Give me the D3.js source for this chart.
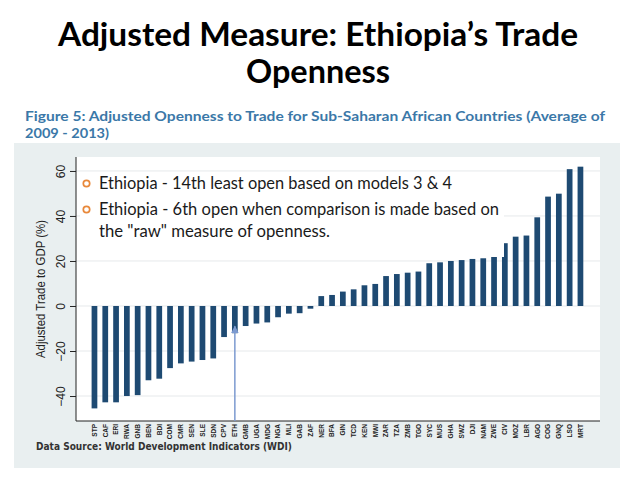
<!DOCTYPE html>
<html>
<head>
<meta charset="utf-8">
<script src="https://cdn.jsdelivr.net/npm/d3@7"></script>
<style>
  body { margin: 0; background: #fff; }
</style>
</head>
<body>
<svg id="chart" width="638" height="478"></svg>
<script>
// country codes, least to most open
const countries = [
  "STP", "CAF", "ERI", "RWA", "GNB", "BEN", "BDI", "COM", "CMR", "SEN",
  "SLE", "SDN", "CPV", "ETH", "GMB", "UGA", "MDG", "NGA", "MLI", "GAB",
  "ZAF", "NER", "BFA", "GIN", "TCD", "KEN", "MWI", "ZAR", "TZA", "ZMB",
  "TGO", "SYC", "MUS", "GHA", "SWZ", "DJI", "NAM", "ZWE", "CIV", "MOZ",
  "LBR", "AGO", "COG", "GNQ", "LSO", "MRT",
];

// adjusted trade to GDP (%)
const openness = [
  -45.5, -42.8, -42.8, -40.0, -39.6, -33.0, -32.3, -27.6, -25.5, -24.7,
  -24.0, -23.3, -13.8, -12.1, -8.9, -7.8, -7.3, -5.0, -3.4, -3.2,
  -1.2, 4.4, 4.9, 6.4, 7.4, 9.2, 9.8, 13.3, 14.2, 14.8,
  15.3, 19.0, 19.4, 20.0, 20.4, 20.9, 21.2, 24.6, 27.9, 30.8,
  31.3, 39.4, 48.6, 49.9, 60.8, 61.9,
];

const yTicks = [-40, -20, 0, 20, 40, 60];

const titleLines = ["Adjusted Measure: Ethiopia\u2019s Trade", "Openness"];
const captionLines = [
  "Figure 5: Adjusted Openness to Trade for Sub-Saharan African Countries (Average of",
  "2009 - 2013)",
];
const bulletLines = [
  { text: "Ethiopia - 14th least open based on models 3 & 4", bullet: true, len: 353 },
  { text: "Ethiopia - 6th open when comparison is made based on", bullet: true, len: 400 },
  { text: "the \"raw\" measure of openness.", bullet: false, len: 231 },
];
const highlight = "ETH";

const svg = d3.select("#chart");

// slide title
svg
  .selectAll(".title")
  .data(titleLines)
  .enter()
  .append("text")
  .attr("class", "title")
  .attr("x", 318)
  .attr("y", (d, i) => 46 + i * 37)
  .attr("text-anchor", "middle")
  .attr("font-family", "Lato, 'Open Sans', sans-serif")
  .attr("font-weight", "bold")
  .attr("font-size", "32px")
  .attr("fill", "#000")
  .attr("textLength", (d, i) => (i === 0 ? 520 : 144))
  .attr("lengthAdjust", "spacingAndGlyphs")
  .text((d) => d);

// figure caption
svg
  .selectAll(".caption")
  .data(captionLines)
  .enter()
  .append("text")
  .attr("class", "caption")
  .attr("x", 25)
  .attr("y", (d, i) => 121 + i * 17)
  .attr("font-family", "Lato, sans-serif")
  .attr("font-weight", "bold")
  .attr("font-size", "12.5px")
  .attr("fill", "#3b78a8")
  .attr("textLength", (d, i) => (i === 0 ? 580 : 84))
  .attr("lengthAdjust", "spacingAndGlyphs")
  .text((d) => d);

// graph region
svg
  .append("rect")
  .attr("x", 14)
  .attr("y", 143)
  .attr("width", 606)
  .attr("height", 325)
  .attr("fill", "#e9eff0");

const plot = { left: 76, right: 600, top: 157, bottom: 421 };

svg
  .append("rect")
  .attr("x", plot.left)
  .attr("y", plot.top)
  .attr("width", plot.right - plot.left)
  .attr("height", plot.bottom - plot.top)
  .attr("fill", "#fff");

// scales
const x = d3
  .scaleBand()
  .domain(countries)
  .range([86.2, 588.7])
  .paddingInner(0.47)
  .paddingOuter(0.5);

const y = d3.scaleLinear().domain([-51.1, 66.2]).range([plot.bottom, plot.top]);

// grid lines
svg
  .selectAll(".grid")
  .data(yTicks)
  .enter()
  .append("line")
  .attr("class", "grid")
  .attr("x1", plot.left)
  .attr("x2", plot.right)
  .attr("y1", (d) => y(d))
  .attr("y2", (d) => y(d))
  .attr("stroke", "#e6e9eb")
  .attr("stroke-width", 1);

// bars
svg
  .selectAll("rect.bar")
  .data(countries)
  .enter()
  .append("rect")
  .attr("class", "bar")
  .attr("x", (d) => x(d))
  .attr("width", x.bandwidth())
  .attr("y", (d, i) => y(Math.max(0, openness[i])))
  .attr("height", (d, i) => Math.abs(y(openness[i]) - y(0)))
  .attr("fill", "#1e4a72");

// y axis
const yAxis = svg
  .append("g")
  .attr("transform", `translate(${plot.left},0)`)
  .call(d3.axisLeft(y).tickValues(yTicks).tickSize(6).tickPadding(3));

yAxis.select(".domain").attr("stroke", "#222").attr("d", `M-0,${plot.top}V${plot.bottom}`);
yAxis.selectAll(".tick line").attr("stroke", "#222");
yAxis
  .selectAll(".tick text")
  .attr("font-family", "Arial, 'Liberation Sans', sans-serif")
  .attr("font-size", "12px")
  .attr("fill", "#222")
  .attr("text-anchor", "middle")
  .attr("x", 0)
  .attr("y", 0)
  .attr("dy", 0)
  .attr("transform", "translate(-11,0) rotate(-90)");

svg
  .append("text")
  .attr("transform", "translate(45,289) rotate(-90)")
  .attr("text-anchor", "middle")
  .attr("font-family", "Arial, 'Liberation Sans', sans-serif")
  .attr("font-size", "13px")
  .attr("fill", "#222")
  .attr("textLength", 138)
  .attr("lengthAdjust", "spacingAndGlyphs")
  .text("Adjusted Trade to GDP (%)");

// x axis
const xAxis = svg
  .append("g")
  .attr("transform", `translate(0,${plot.bottom})`)
  .call(d3.axisBottom(x).tickSize(0).tickPadding(2));

xAxis.select(".domain").attr("stroke", "#222").attr("d", `M${plot.left},0H${plot.right}`);
xAxis
  .selectAll(".tick text")
  .attr("font-family", "Arial, 'Liberation Sans', sans-serif")
  .attr("font-size", "6.5px")
  .attr("font-weight", "bold")
  .attr("fill", "#222")
  .attr("text-anchor", "end")
  .attr("dy", "0.35em")
  .attr("y", 0)
  .attr("transform", "translate(0,3) rotate(-90)");

// source note
svg
  .append("text")
  .attr("x", 36)
  .attr("y", 450)
  .attr("font-family", "Verdana, 'DejaVu Sans', sans-serif")
  .attr("font-size", "10px")
  .attr("font-weight", "bold")
  .attr("fill", "#333")
  .attr("textLength", 256)
  .attr("lengthAdjust", "spacingAndGlyphs")
  .text("Data Source: World Development Indicators (WDI)");

// arrow to Ethiopia
const defs = svg.append("defs");
defs
  .append("marker")
  .attr("id", "arrowhead")
  .attr("viewBox", "0 0 10 10")
  .attr("refX", 9)
  .attr("refY", 5)
  .attr("markerWidth", 5)
  .attr("markerHeight", 5)
  .attr("orient", "auto")
  .append("path")
  .attr("d", "M0,0L10,5L0,10z")
  .attr("fill", "#7c9ad0");

const ethX = x(highlight) + x.bandwidth() / 2;
svg
  .append("line")
  .attr("x1", ethX)
  .attr("x2", ethX)
  .attr("y1", plot.bottom)
  .attr("y2", y(openness[countries.indexOf(highlight)]) - 7)
  .attr("stroke", "#7c9ad0")
  .attr("stroke-width", 1.5)
  .attr("marker-end", "url(#arrowhead)");

// text box with bullets
svg
  .append("rect")
  .attr("x", 80)
  .attr("y", 175)
  .attr("width", 424)
  .attr("height", 82)
  .attr("fill", "#fff");

const lineY = [189, 215, 237];

svg
  .selectAll(".bullet-text")
  .data(bulletLines)
  .enter()
  .append("text")
  .attr("class", "bullet-text")
  .attr("x", 99)
  .attr("y", (d, i) => lineY[i])
  .attr("font-family", "Lato, 'Open Sans', sans-serif")
  .attr("font-size", "17px")
  .attr("fill", "#1a1a1a")
  .attr("textLength", (d) => d.len)
  .attr("lengthAdjust", "spacingAndGlyphs")
  .text((d) => d.text);

svg
  .selectAll(".bullet")
  .data(bulletLines.filter((d) => d.bullet))
  .enter()
  .append("circle")
  .attr("class", "bullet")
  .attr("cx", 86.5)
  .attr("cy", (d, i) => lineY[i] - 5.5)
  .attr("r", 3.2)
  .attr("fill", "none")
  .attr("stroke", "#e8883a")
  .attr("stroke-width", 1.7);
</script>
</body>
</html>
